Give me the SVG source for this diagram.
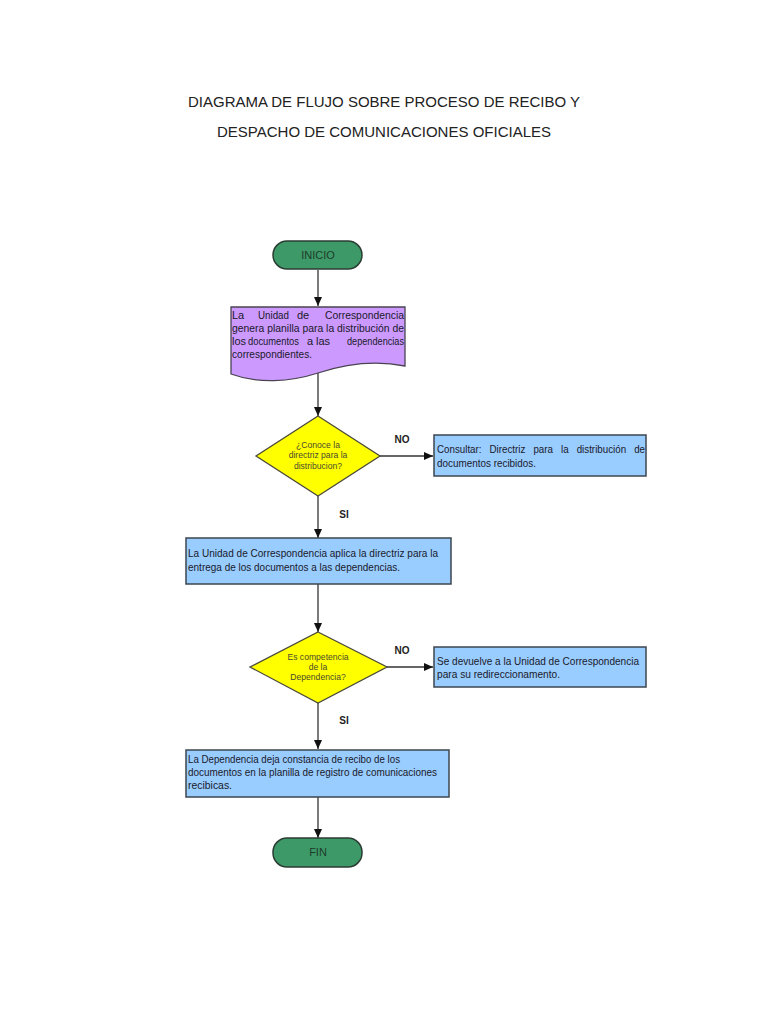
<svg xmlns="http://www.w3.org/2000/svg" width="768" height="1024" viewBox="0 0 768 1024">
<defs>
<marker id="arr" markerWidth="10" markerHeight="10" refX="9" refY="5" orient="auto" markerUnits="userSpaceOnUse">
<path d="M0,1 L9,5 L0,9 Z" fill="#111"/>
</marker>
<style>
.title{font-family:"Liberation Sans",Arial,sans-serif;font-size:15.5px;fill:#222}
.pill{fill:#3d9a68;stroke:#2b3d33;stroke-width:1.5}
.pilltxt{font-family:"Liberation Sans",Arial,sans-serif;font-size:11px;fill:#1d3b2a;text-anchor:middle}
.box{fill:#99ccff;stroke:#3d4650;stroke-width:1.5}
.doc{fill:#cc99ff;stroke:#4a4452;stroke-width:1.3}
.dia{fill:#ffff00;stroke:#4a4a3a;stroke-width:1.3}
.t{font-family:"Liberation Sans",Arial,sans-serif;font-size:11px;fill:#1a1a2a}
.dt{font-family:"Liberation Sans",Arial,sans-serif;font-size:8.6px;fill:#4a4a30;text-anchor:middle}
.lbl{font-family:"Liberation Sans",Arial,sans-serif;font-size:10px;font-weight:bold;fill:#222;text-anchor:middle}
.con{stroke:#333;stroke-width:1.3;fill:none;marker-end:url(#arr)}
</style>
</defs>
<rect width="768" height="1024" fill="#ffffff"/>
<g id="title">
<text class="title" x="188" y="107" textLength="392" lengthAdjust="spacingAndGlyphs">DIAGRAMA DE FLUJO SOBRE PROCESO DE RECIBO Y</text>
<text class="title" x="217" y="137" textLength="334" lengthAdjust="spacingAndGlyphs">DESPACHO DE COMUNICACIONES OFICIALES</text>
</g>
<g id="connectors">
<line class="con" x1="318" y1="270" x2="318" y2="306"/>
<line class="con" x1="318" y1="372" x2="318" y2="416"/>
<line class="con" x1="380" y1="456" x2="433" y2="456"/>
<line class="con" x1="318" y1="496" x2="318" y2="538"/>
<line class="con" x1="318" y1="584" x2="318" y2="632"/>
<line class="con" x1="387" y1="667" x2="433" y2="667"/>
<line class="con" x1="318" y1="703" x2="318" y2="749"/>
<line class="con" x1="318" y1="797" x2="318" y2="838"/>
<text class="lbl" x="402" y="443">NO</text>
<text class="lbl" x="344" y="518">SI</text>
<text class="lbl" x="402" y="654">NO</text>
<text class="lbl" x="344" y="724">SI</text>
</g>
<g id="inicio">
<rect class="pill" x="273" y="241" width="89" height="28" rx="14" ry="14"/>
<text class="pilltxt" x="318" y="259">INICIO</text>
</g>
<g id="planilla">
<path class="doc" d="M231,307 H405 V366 C375,360 345,364 318,373 C290,382 258,384 231,374 Z"/>
<text class="t" x="232" y="319">La</text>
<text class="t" x="258" y="319" textLength="31" lengthAdjust="spacingAndGlyphs">Unidad</text>
<text class="t" x="297" y="319">de</text>
<text class="t" x="325" y="319" textLength="79" lengthAdjust="spacingAndGlyphs">Correspondencia</text>
<text class="t" x="232" y="332" textLength="172" lengthAdjust="spacingAndGlyphs">genera planilla para la distribución de</text>
<text class="t" x="232" y="345" textLength="14" lengthAdjust="spacingAndGlyphs">los</text>
<text class="t" x="248" y="345" textLength="51" lengthAdjust="spacingAndGlyphs">documentos</text>
<text class="t" x="307" y="345">a</text>
<text class="t" x="316" y="345" textLength="14" lengthAdjust="spacingAndGlyphs">las</text>
<text class="t" x="347" y="345" textLength="57" lengthAdjust="spacingAndGlyphs">dependencias</text>
<text class="t" x="232" y="358" textLength="80" lengthAdjust="spacingAndGlyphs">correspondientes.</text>
</g>
<g id="decision1">
<polygon class="dia" points="318,416 380,456 318,496 256,456"/>
<text class="dt" x="318" y="448">¿Conoce la</text>
<text class="dt" x="318" y="458">directriz para la</text>
<text class="dt" x="318" y="469">distribucion?</text>
</g>
<g id="consultar">
<rect class="box" x="434" y="435" width="212" height="41"/>
<text class="t" x="437" y="453" textLength="208" lengthAdjust="spacingAndGlyphs" style="word-spacing:6px">Consultar: Directriz para la distribución de</text>
<text class="t" x="437" y="467" textLength="99" lengthAdjust="spacingAndGlyphs">documentos recibidos.</text>
</g>
<g id="aplica">
<rect class="box" x="186" y="538" width="265" height="46"/>
<text class="t" x="188" y="557" textLength="250" lengthAdjust="spacingAndGlyphs">La Unidad de Correspondencia aplica la directriz para la</text>
<text class="t" x="188" y="571" textLength="212" lengthAdjust="spacingAndGlyphs">entrega de los documentos a las dependencias.</text>
</g>
<g id="decision2">
<polygon class="dia" points="318,632 387,667 318,703 250,667"/>
<text class="dt" x="318" y="660">Es competencia</text>
<text class="dt" x="318" y="670">de la</text>
<text class="dt" x="318" y="680">Dependencia?</text>
</g>
<g id="devuelve">
<rect class="box" x="434" y="647" width="212" height="40"/>
<text class="t" x="437" y="665" textLength="202" lengthAdjust="spacingAndGlyphs">Se devuelve a la Unidad de Correspondencia</text>
<text class="t" x="437" y="678" textLength="123" lengthAdjust="spacingAndGlyphs">para su redireccionamento.</text>
</g>
<g id="constancia">
<rect class="box" x="186" y="750" width="263" height="47"/>
<text class="t" x="188" y="763" textLength="212" lengthAdjust="spacingAndGlyphs">La Dependencia deja constancia de recibo de los</text>
<text class="t" x="188" y="776" textLength="249" lengthAdjust="spacingAndGlyphs">documentos en la planilla de registro de comunicaciones</text>
<text class="t" x="188" y="789" textLength="44" lengthAdjust="spacingAndGlyphs">recibicas.</text>
</g>
<g id="fin">
<rect class="pill" x="273" y="838" width="89" height="29" rx="14" ry="14"/>
<text class="pilltxt" x="318" y="856">FIN</text>
</g>
</svg>
